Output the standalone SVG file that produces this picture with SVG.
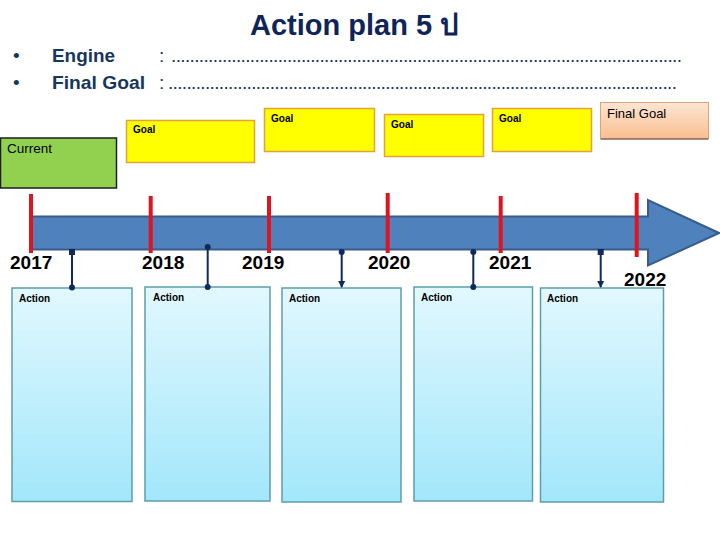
<svg xmlns="http://www.w3.org/2000/svg" width="720" height="540" viewBox="0 0 720 540">
<defs>
<linearGradient id="actGrad" x1="0" y1="0" x2="0" y2="1">
<stop offset="0" stop-color="#E2F8FE"/>
<stop offset="1" stop-color="#A2E7FB"/>
</linearGradient>
<linearGradient id="finGrad" x1="0" y1="0" x2="0" y2="1">
<stop offset="0" stop-color="#FDE6D3"/>
<stop offset="1" stop-color="#F9BE90"/>
</linearGradient>
<marker id="dot" viewBox="0 0 8 8" refX="4" refY="4" markerWidth="8" markerHeight="8" markerUnits="userSpaceOnUse">
<circle cx="4" cy="4" r="3" fill="#0E2A5C"/>
</marker>
<marker id="sq" viewBox="0 0 8 8" refX="4" refY="4" markerWidth="8" markerHeight="8" markerUnits="userSpaceOnUse">
<rect x="1" y="1" width="6" height="6" fill="#0E2A5C"/>
</marker>
<marker id="tri" viewBox="0 0 8 8" refX="6" refY="4" markerWidth="8" markerHeight="8" markerUnits="userSpaceOnUse" orient="auto">
<path d="M0,0.5 L7,4 L0,7.5 Z" fill="#0E2A5C"/>
</marker>
</defs>
<style>
.hdr{font-family:"Liberation Sans","DejaVu Sans",sans-serif;fill:#17365D;font-size:19px;font-weight:bold;}
.dots{font-family:"Liberation Sans","DejaVu Sans",sans-serif;fill:#17365D;font-size:19px;}
.title{font-family:"Liberation Sans","DejaVu Sans","Noto Sans",sans-serif;font-weight:bold;fill:#0F2557;font-size:29px;}
.goal rect{fill:#FFFF00;stroke:#E0A33A;stroke-width:1.5;}
.goal text,.act text{font-family:"Liberation Sans","DejaVu Sans",sans-serif;font-weight:bold;font-size:10px;fill:#000;}
.act rect{fill:url(#actGrad);stroke:#5E9EAA;stroke-width:1.5;}
.yr{font-family:"Liberation Sans","DejaVu Sans",sans-serif;font-weight:bold;font-size:19px;fill:#000;}
.tick{stroke:#E0141E;stroke-width:4;}
.conn{stroke:#0E2A5C;stroke-width:2;fill:none;}
</style>

<text class="title" x="250" y="35">Action plan 5 ป</text>

<g id="header">
<text class="dots" x="13" y="62">•</text>
<text class="dots" x="13" y="89">•</text>
<text class="hdr" x="52" y="62" textLength="63" lengthAdjust="spacingAndGlyphs">Engine</text>
<text class="hdr" x="52" y="89" textLength="93" lengthAdjust="spacingAndGlyphs">Final Goal</text>
<text class="dots" x="159" y="62">:</text>
<text class="dots" x="159" y="89">:</text>
<text class="dots" x="171" y="62" textLength="511" lengthAdjust="spacing">..............................................................................................................</text>
<text class="dots" x="168" y="89" textLength="509" lengthAdjust="spacing">..............................................................................................................</text>
</g>

<g id="current">
<rect x="0.5" y="138" width="116" height="50" fill="#92D050" stroke="#1E1E1E" stroke-width="1.5"/>
<text x="7" y="153" font-family="'Liberation Sans','DejaVu Sans',sans-serif" font-size="13.5" fill="#000">Current</text>
</g>
<g id="goal1" class="goal"><rect x="126.5" y="120.5" width="128" height="42"/><text x="133" y="133">Goal</text></g>
<g id="goal2" class="goal"><rect x="264.5" y="108.5" width="110" height="43"/><text x="271" y="122">Goal</text></g>
<g id="goal3" class="goal"><rect x="384.5" y="114.5" width="99" height="42"/><text x="391" y="128">Goal</text></g>
<g id="goal4" class="goal"><rect x="492.5" y="108.5" width="99" height="43"/><text x="499" y="122">Goal</text></g>
<g id="finalgoal">
<rect x="600.5" y="102.5" width="108" height="36" fill="url(#finGrad)" stroke="#D9A47A" stroke-width="1"/>
<line x1="600.5" y1="139" x2="708.5" y2="139" stroke="#8C6B55" stroke-width="1.5"/>
<text x="607" y="118" font-family="'Liberation Sans','DejaVu Sans',sans-serif" font-size="13" fill="#000">Final Goal</text>
</g>

<g id="timeline">
<path d="M32,216.5 L648,216.5 L648,200 L719,233 L648,265.5 L648,249.5 L32,249.5 Z" fill="#4F81BD" stroke="#385D8A" stroke-width="2"/>
<line class="tick" x1="31" y1="194" x2="31" y2="253"/>
<line class="tick" x1="150.7" y1="196" x2="150.7" y2="253"/>
<line class="tick" x1="269" y1="196" x2="269" y2="253"/>
<line class="tick" x1="387.7" y1="193" x2="387.7" y2="253"/>
<line class="tick" x1="500.7" y1="196" x2="500.7" y2="253"/>
<line class="tick" x1="636.7" y1="193" x2="636.7" y2="257"/>
<text class="yr" x="10" y="269">2017</text>
<text class="yr" x="142" y="269">2018</text>
<text class="yr" x="242" y="269">2019</text>
<text class="yr" x="368" y="269">2020</text>
<text class="yr" x="489" y="269">2021</text>
<text class="yr" x="624" y="286">2022</text>
</g>

<g id="action1" class="act"><rect x="12" y="288" width="120" height="213.5"/><text x="19" y="302">Action</text></g>
<g id="action2" class="act"><rect x="145" y="287" width="125" height="214"/><text x="153" y="301">Action</text></g>
<g id="action3" class="act"><rect x="282" y="288" width="119" height="214"/><text x="289" y="302">Action</text></g>
<g id="action4" class="act"><rect x="414" y="287" width="118.5" height="214"/><text x="421" y="301">Action</text></g>
<g id="action5" class="act"><rect x="540.5" y="288" width="123" height="214"/><text x="547" y="302">Action</text></g>

<g id="connectors">
<line class="conn" x1="72" y1="252" x2="72" y2="287.5" marker-start="url(#sq)" marker-end="url(#dot)"/>
<line class="conn" x1="207.7" y1="247" x2="207.7" y2="287" marker-start="url(#dot)" marker-end="url(#dot)"/>
<line class="conn" x1="341.7" y1="252" x2="341.7" y2="287" marker-start="url(#dot)" marker-end="url(#tri)"/>
<line class="conn" x1="473.3" y1="252" x2="473.3" y2="287" marker-start="url(#dot)" marker-end="url(#dot)"/>
<line class="conn" x1="600.7" y1="252" x2="600.7" y2="287" marker-start="url(#sq)" marker-end="url(#tri)"/>
</g>
</svg>
